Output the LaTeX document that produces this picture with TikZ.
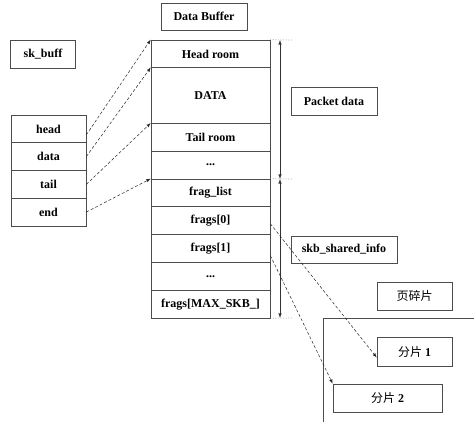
\documentclass[tikz,border=0pt]{standalone}
\usepackage{fontspec}
\setmainfont{Liberation Serif}
\newfontfamily\cjk{Noto Sans CJK SC}
\usetikzlibrary{calc,positioning}

\begin{document}
\begin{tikzpicture}[x=1pt, y=-1pt, >=latex,
        box/.style={draw=black!70, line width=0.6pt, inner sep=0pt, font=\fontsize{12}{14}\selectfont\bfseries},
        cell/.style={box, minimum width=119pt, minimum height=27.8pt},
        ptr/.style={box, minimum width=75pt, minimum height=27.75pt},
        link/.style={->, densely dashed, line width=0.5pt, black!85}]
                \useasboundingbox (0, 0) rectangle (474, 422);

                % Labels
                \node[box, minimum width=86pt, minimum height=27pt] at (204, 16.5) (databuffer) {Data Buffer};
                \node[box, minimum width=65pt, minimum height=28pt] at (43, 54) (skbuff) {sk\_buff};
                \node[box, minimum width=86pt, minimum height=28pt] at (334, 101) (packetdata) {Packet data};
                \node[box, minimum width=106pt, minimum height=27pt] at (344, 249.5) (sharedinfo) {skb\_shared\_info};

                % Data buffer column
                \node[cell] at (210.5, 53.9) (headroom) {Head room};
                \node[cell, minimum height=55.6pt] at (210.5, 95.6) (dataarea) {DATA};
                \node[cell] at (210.5, 137.3) (tailroom) {Tail room};
                \node[cell] at (210.5, 165.1) (dotsa) {...};
                \node[cell] at (210.5, 192.9) (fraglist) {frag\_list};
                \node[cell] at (210.5, 220.7) (frags0) {frags[0]};
                \node[cell] at (210.5, 248.5) (frags1) {frags[1]};
                \node[cell] at (210.5, 276.3) (dotsb) {...};
                \node[cell] at (210.5, 304.1) (fragsmax) {frags[MAX\_SKB\_]};

                % sk_buff pointers
                \node[ptr] at (48.5, 128.9) (head) {head};
                \node[ptr] at (48.5, 156.6) (data) {data};
                \node[ptr] at (48.5, 184.4) (tail) {tail};
                \node[ptr] at (48.5, 212.1) (end) {end};

                % Page fragments
                \draw[black!70, line width=0.6pt] (474, 318) -- (323, 318) -- (323, 422);
                \node[box, font=\fontsize{12}{14}\selectfont\cjk, minimum width=75pt, minimum height=28pt] at (414.5, 296) (pagefrag) {页碎片};
                \node[box, font=\fontsize{12}{14}\selectfont, minimum width=75pt, minimum height=29pt] at (414.5, 351.5) (frag1) {{\cjk 分片} \textbf{1}};
                \node[box, font=\fontsize{12}{14}\selectfont, minimum width=109pt, minimum height=28pt] at (387.5, 398) (frag2) {{\cjk 分片} \textbf{2}};

                % Extent lines
                \coordinate (toptick) at (292, 40);
                \coordinate (midtick) at (292, 179);
                \coordinate (bottick) at (292, 318);
                \draw[black!55, line width=0.6pt, dotted] (headroom.north east) -- (toptick);
                \draw[black!55, line width=0.6pt, dotted] (fraglist.north east) -- (midtick);
                \draw[black!55, line width=0.6pt, dotted] (fragsmax.south east) -- (bottick);
                \draw[<->, line width=0.6pt, black!80] ($(toptick)+(-12, 0)$) -- ($(midtick)+(-12, 0)$);
                \draw[<->, line width=0.6pt, black!80] ($(midtick)+(-12, 0)$) -- ($(bottick)+(-12, 0)$);

                % Pointers
                \draw[link] ([yshift=-6pt]head.east) -- (headroom.north west);
                \draw[link] (data.east) -- (dataarea.north west);
                \draw[link] (tail.east) -- (tailroom.north west);
                \draw[link] (end.east) -- (fraglist.north west);
                \draw[link] ([yshift=-3pt]frags0.east) -- ([yshift=-6pt]frag1.west);
                \draw[link] ([yshift=-7pt]frags1.east) -- (frag2.north west);

            \end{tikzpicture}
\end{document}
